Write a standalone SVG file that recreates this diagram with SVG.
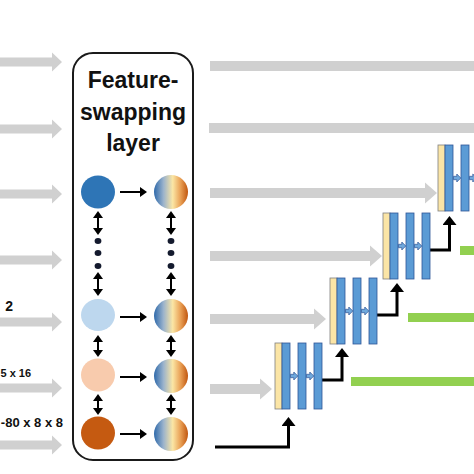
<svg xmlns="http://www.w3.org/2000/svg" xmlns:xlink="http://www.w3.org/1999/xlink" width="474" height="474" viewBox="0 0 474 474">
<style>
.ga{fill:#d0d0d0}
.lbl{font-family:"Liberation Sans",Arial,sans-serif;font-weight:bold;fill:#111}
.ttl{font-family:"Liberation Sans",Arial,sans-serif;font-weight:bold;font-size:23px;fill:#111;text-anchor:middle}
.yb{fill:#fbe5a6;stroke:#7f7f7f;stroke-width:0.8}
.bb{fill:#5b9bd5;stroke:#2f5597;stroke-width:0.8}
.sa{fill:#6fa8dc;stroke:#2f5597;stroke-width:0.7}
.gr{fill:#92d050}
.blk{fill:none;stroke:#000;stroke-width:3}
.thin{fill:none;stroke:#000;stroke-width:2}
</style>
<defs>
<linearGradient id="mix" x1="0" y1="0" x2="1" y2="0">
<stop offset="0" stop-color="#2f6aab"/>
<stop offset="0.28" stop-color="#9bb3cc"/>
<stop offset="0.55" stop-color="#fbe6a4"/>
<stop offset="0.78" stop-color="#e9a055"/>
<stop offset="1" stop-color="#c0560f"/>
</linearGradient>
<marker id="bigHead" markerUnits="userSpaceOnUse" markerWidth="9" markerHeight="14" viewBox="0 0 9 14" refX="0" refY="7" orient="auto">
<path d="M0,0 L9,7 L0,14 Z" fill="#000"/>
</marker>
<marker id="smHead" markerUnits="userSpaceOnUse" markerWidth="7" markerHeight="10" viewBox="0 0 7 10" refX="1" refY="5" orient="auto-start-reverse">
<path d="M0,0 L7,5 L0,10 Z" fill="#000"/>
</marker>
<g id="block">
<rect class="yb" x="0" y="0" width="7" height="66"/>
<rect class="bb" x="7" y="0" width="8" height="66"/>
<rect class="bb" x="23" y="0" width="8" height="66"/>
<rect class="bb" x="39" y="0" width="8" height="66"/>
<path class="sa" d="M15.5,31.3 H18.8 V29 L22.8,33 L18.8,37 V34.7 H15.5 Z"/>
<path class="sa" d="M31.5,31.3 H34.8 V29 L38.8,33 L34.8,37 V34.7 H31.5 Z"/>
</g>
</defs>
<rect width="474" height="474" fill="#fff"/>

<g id="connectors">
<g id="input-arrows">
<path class="ga" d="M0,57.5 H52 V52.5 L62,62 L52,71.5 V66.5 H0 Z"/>
<path class="ga" d="M0,124.5 H52 V119.5 L62,129 L52,138.5 V133.5 H0 Z"/>
<path class="ga" d="M0,189.5 H52 V184.5 L62,194 L52,203.5 V198.5 H0 Z"/>
<path class="ga" d="M0,255.5 H52 V250.5 L62,260 L52,269.5 V264.5 H0 Z"/>
<path class="ga" d="M0,317.5 H52 V312.5 L62,322 L52,331.5 V326.5 H0 Z"/>
<path class="ga" d="M0,383.5 H52 V378.5 L62,388 L52,397.5 V392.5 H0 Z"/>
<path class="ga" d="M0,440.5 H52 V435.5 L62,445 L52,454.5 V449.5 H0 Z"/>
</g>
<g id="skip-arrows">
<rect class="ga" x="210" y="61" width="264" height="10"/>
<rect class="ga" x="209" y="123" width="265" height="10"/>
<path class="ga" d="M210,188 H425 V182.5 L437,193 L425,203.5 V198 H210 Z"/>
<path class="ga" d="M210,251 H370 V245.5 L382,256 L370,266.5 V261 H210 Z"/>
<path class="ga" d="M210,314 H314 V308.5 L326,319 L314,329.5 V324 H210 Z"/>
<path class="ga" d="M210,384 H260 V378.5 L272,389 L260,399.5 V394 H210 Z"/>
</g>
<g id="up-connectors">
<path class="blk" d="M215,447 H288.5 V426" marker-end="url(#bigHead)"/>
<path class="blk" d="M322,380 H342 V357" marker-end="url(#bigHead)"/>
<path class="blk" d="M376,315 H397 V292" marker-end="url(#bigHead)"/>
<path class="blk" d="M430,250 H449.5 V225" marker-end="url(#bigHead)"/>
</g>
<g id="swap-arrows">
<path class="thin" d="M120,192 H141" marker-end="url(#smHead)"/>
<path class="thin" d="M120,317 H141" marker-end="url(#smHead)"/>
<path class="thin" d="M120,377 H141" marker-end="url(#smHead)"/>
<path class="thin" d="M120,434 H141" marker-end="url(#smHead)"/>
<path class="thin" d="M98,217 V229" marker-start="url(#smHead)" marker-end="url(#smHead)"/>
<path class="thin" d="M98,278 V290" marker-start="url(#smHead)" marker-end="url(#smHead)"/>
<path class="thin" d="M98,341 V351" marker-start="url(#smHead)" marker-end="url(#smHead)"/>
<path class="thin" d="M98,400 V409" marker-start="url(#smHead)" marker-end="url(#smHead)"/>
<path class="thin" d="M171,217 V229" marker-start="url(#smHead)" marker-end="url(#smHead)"/>
<path class="thin" d="M171,278 V290" marker-start="url(#smHead)" marker-end="url(#smHead)"/>
<path class="thin" d="M171,341 V351" marker-start="url(#smHead)" marker-end="url(#smHead)"/>
<path class="thin" d="M171,400 V409" marker-start="url(#smHead)" marker-end="url(#smHead)"/>
</g>
</g>

<g id="feature-swapping-layer">
<rect x="73" y="53" width="120" height="407" rx="20" ry="20" fill="none" stroke="#1a1a1a" stroke-width="2"/>
<text class="ttl" x="133" y="88">Feature-</text>
<text class="ttl" x="133" y="120">swapping</text>
<text class="ttl" x="133" y="151">layer</text>
<g id="dots" fill="#141a2e">
<ellipse cx="98" cy="241" rx="3.4" ry="3"/>
<ellipse cx="98" cy="253" rx="3.4" ry="3"/>
<ellipse cx="98" cy="266" rx="3.4" ry="3"/>
<ellipse cx="171" cy="241" rx="3.4" ry="3"/>
<ellipse cx="171" cy="253" rx="3.4" ry="3"/>
<ellipse cx="171" cy="266" rx="3.4" ry="3"/>
</g>
</g>
<g id="feat-1"><ellipse cx="98" cy="192" rx="17" ry="16.5" fill="#2e75b6"/></g>
<g id="feat-2"><ellipse cx="98" cy="315" rx="17" ry="16" fill="#bdd7ee"/></g>
<g id="feat-3"><ellipse cx="98" cy="375" rx="17" ry="16.5" fill="#f8cbad"/></g>
<g id="feat-4"><ellipse cx="98" cy="433" rx="17" ry="16.5" fill="#c55a11"/></g>
<g id="swap-1"><circle cx="171" cy="192" r="17" fill="url(#mix)"/></g>
<g id="swap-2"><circle cx="171" cy="316" r="17" fill="url(#mix)"/></g>
<g id="swap-3"><circle cx="171" cy="376" r="17" fill="url(#mix)"/></g>
<g id="swap-4"><circle cx="171" cy="434" r="17" fill="url(#mix)"/></g>

<g id="labels">
<text class="lbl" x="13" y="311" font-size="14" text-anchor="end">2</text>
<text class="lbl" x="0.5" y="377" font-size="11">5 x 16</text>
<text class="lbl" x="63" y="427" font-size="13" text-anchor="end">-80 x 8 x 8</text>
</g>

<g id="decoder-1"><use xlink:href="#block" href="#block" x="275" y="343"/></g>
<g id="decoder-2"><use xlink:href="#block" href="#block" x="330" y="278"/></g>
<g id="decoder-3"><use xlink:href="#block" href="#block" x="383" y="213"/></g>
<g id="decoder-4"><use xlink:href="#block" href="#block" x="438" y="145"/></g>

<g id="outputs">
<rect class="gr" x="351" y="377" width="123" height="9"/>
<rect class="gr" x="408" y="313" width="66" height="9"/>
<rect class="gr" x="460" y="246" width="14" height="9"/>
</g>
</svg>
